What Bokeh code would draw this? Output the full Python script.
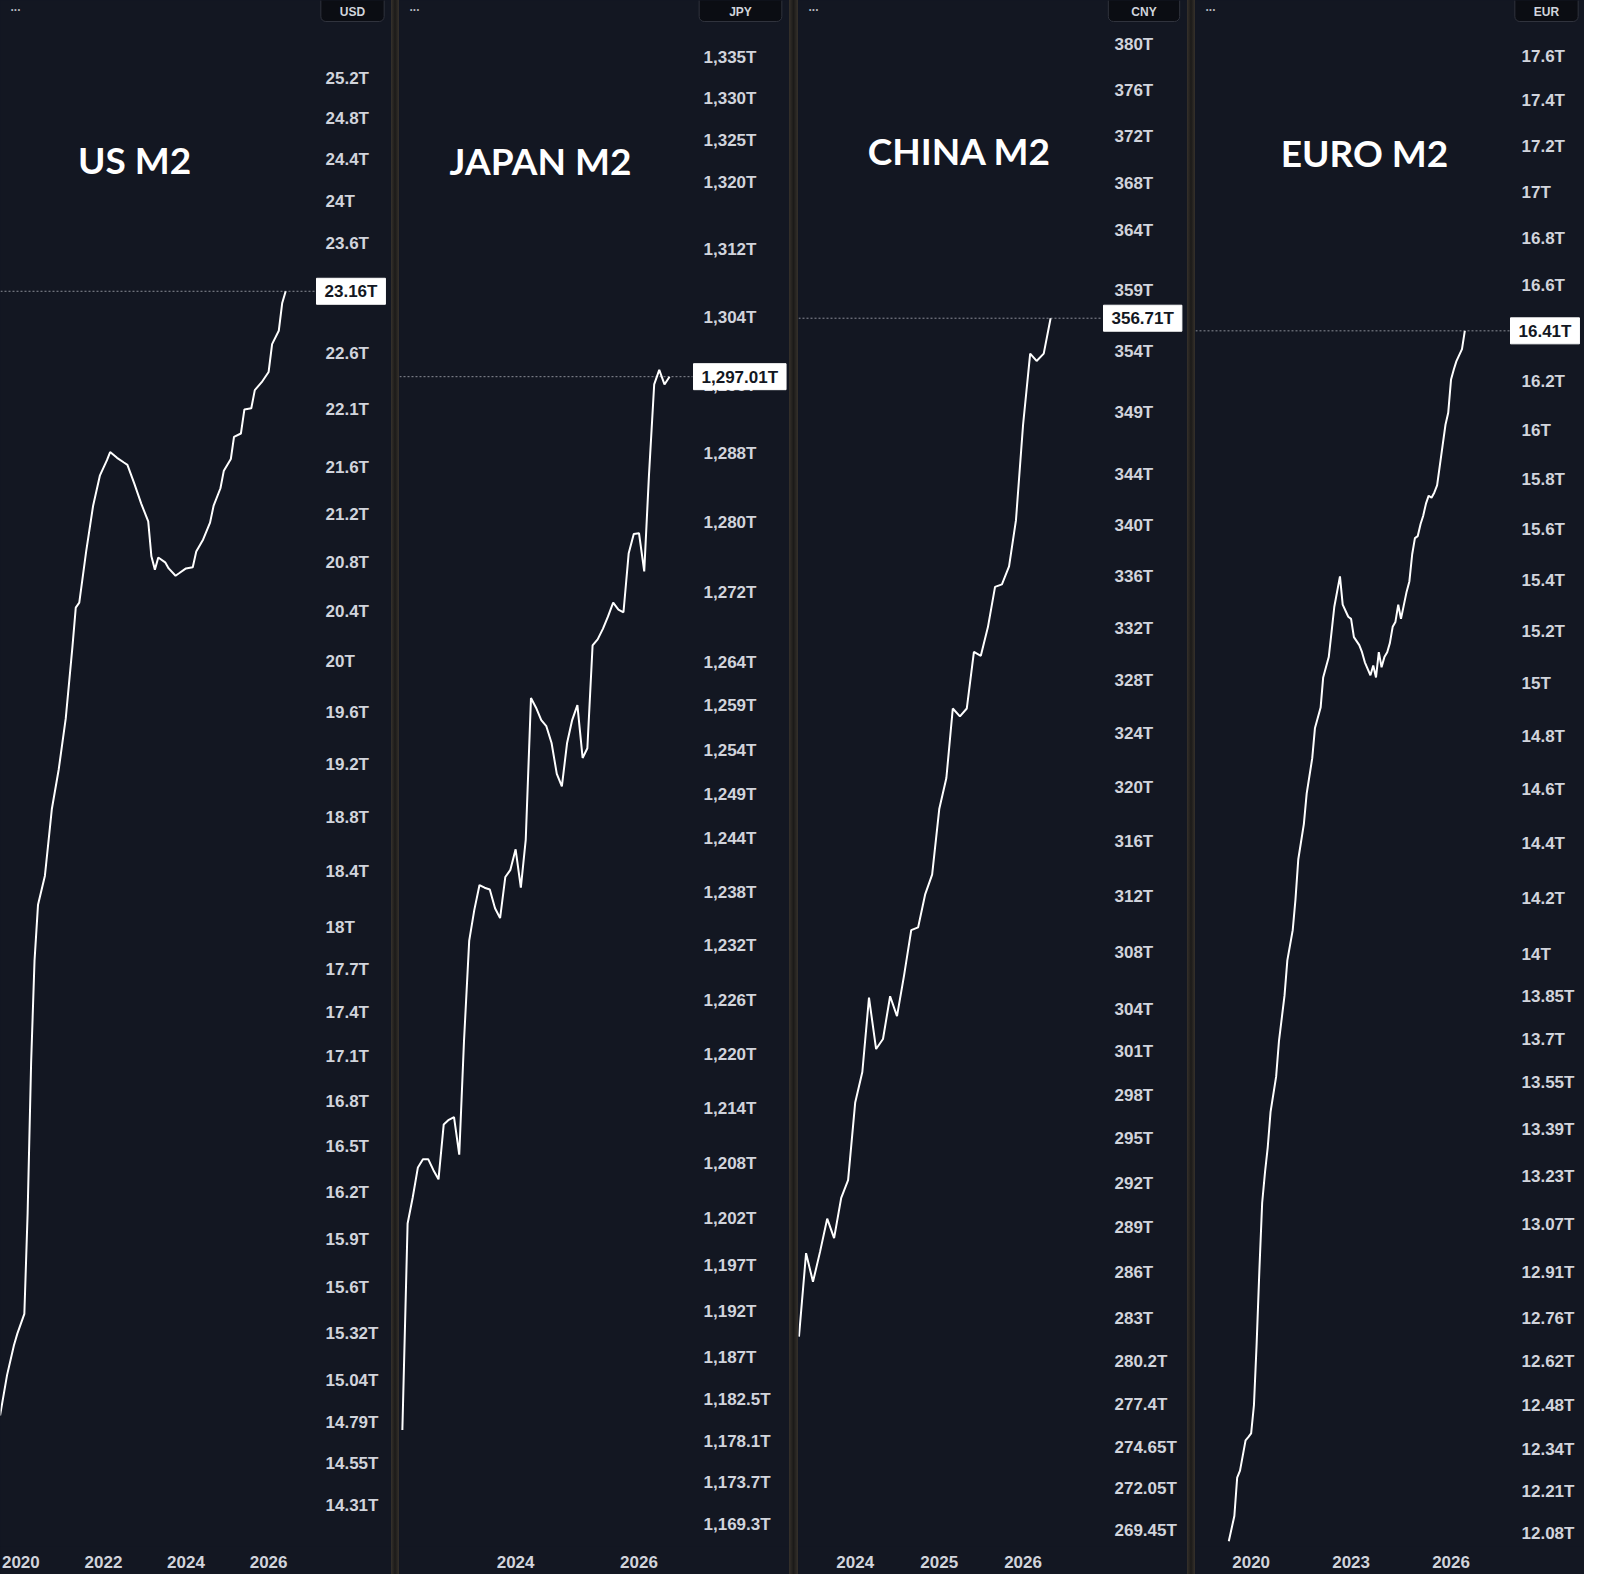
import pandas as pd
from bokeh.plotting import figure
from bokeh.models import Range1d, FixedTicker, CustomJSTickFormatter, Label, Div
from bokeh.layouts import row
from bokeh.embed import file_html
from bokeh.resources import INLINE

# ---------------- data (trillions, local currency) ----------------
us_months = ["2019-07", "2019-09", "2019-11", "2019-12", "2020-02", "2020-03", "2020-04", "2020-05",
             "2020-06", "2020-08", "2020-10", "2020-12", "2021-02", "2021-04", "2021-05", "2021-06",
             "2021-08", "2021-10", "2021-12", "2022-02", "2022-03", "2022-05", "2022-07", "2022-08",
             "2022-10", "2022-12", "2023-02", "2023-03", "2023-04", "2023-05", "2023-07", "2023-08",
             "2023-10", "2023-11", "2024-01", "2024-03", "2024-04", "2024-06", "2024-08", "2024-09",
             "2024-11", "2024-12", "2025-02", "2025-03", "2025-05", "2025-06", "2025-08", "2025-09",
             "2025-11", "2026-01", "2026-02", "2026-04", "2026-05", "2026-06"]
us_m2 = [14.83, 15.07, 15.25, 15.32, 15.44, 16.07, 17.06, 17.76, 18.16, 18.37, 18.86, 19.16,
         19.55, 20.11, 20.43, 20.47, 20.89, 21.27, 21.53, 21.66, 21.73, 21.68, 21.64, 21.62,
         21.46, 21.29, 21.14, 20.85, 20.74, 20.84, 20.80, 20.75, 20.69, 20.71, 20.75, 20.76,
         20.89, 20.99, 21.13, 21.27, 21.42, 21.57, 21.67, 21.86, 21.89, 22.10, 22.11, 22.27,
         22.34, 22.43, 22.68, 22.80, 23.05, 23.16]

jp_start = "2022-03"  # monthly from here
jp_m2 = [1179.3, 1201.5, 1204.3, 1207.6, 1208.5, 1208.5, 1207.3, 1206.3, 1212.3, 1212.8,
         1213.1, 1209.0, 1221.4, 1232.6, 1236.0, 1238.8, 1238.5, 1238.3, 1236.2, 1235.1, 1239.7, 1240.5,
         1242.8, 1238.5, 1243.9, 1259.9, 1258.8, 1257.4, 1256.7, 1254.8, 1251.3, 1249.9, 1254.8, 1257.4,
         1259.1, 1253.1, 1254.2, 1265.9, 1266.6, 1267.8, 1269.2, 1270.8, 1270.0, 1269.7, 1276.5, 1278.7,
         1278.8, 1274.4, 1285.5, 1296.1, 1297.8, 1296.1, 1297.01]

cn_start = "2023-05"  # monthly from here
cn_m2 = [281.8, 287.3, 285.4, 287.4, 289.6, 288.3, 291.0, 292.2,
         297.5, 299.6, 304.8, 301.2, 301.9, 304.9, 303.5, 306.4, 309.6, 309.8, 312.2, 313.6,
         318.4, 320.7, 325.9, 325.3, 325.9, 330.2, 329.9, 332.1, 335.2, 335.4, 336.8, 340.4,
         348.0, 353.8, 353.2, 353.8, 356.71]

eu_months = ["2019-05", "2019-07", "2019-08", "2019-09", "2019-11", "2019-12",
             "2020-01", "2020-02", "2020-03", "2020-04", "2020-05", "2020-06", "2020-07", "2020-08", "2020-10", "2020-11",
             "2021-01", "2021-02", "2021-04", "2021-05", "2021-06", "2021-08", "2021-09", "2021-11", "2021-12",
             "2022-02", "2022-03", "2022-05", "2022-06", "2022-07", "2022-09", "2022-10", "2022-12",
             "2023-01", "2023-02", "2023-04", "2023-05", "2023-06", "2023-08", "2023-09", "2023-10", "2023-11", "2023-12",
             "2024-01", "2024-02", "2024-03", "2024-04", "2024-05", "2024-06", "2024-07", "2024-09", "2024-10", "2024-11", "2024-12",
             "2025-01", "2025-02", "2025-03", "2025-04", "2025-05", "2025-06", "2025-07", "2025-08", "2025-10", "2025-11", "2025-12",
             "2026-01", "2026-02", "2026-03", "2026-05", "2026-06"]
eu_m2 = [12.055, 12.133, 12.252, 12.274, 12.369, 12.379,
         12.391, 12.481, 12.675, 12.922, 13.141, 13.243, 13.328, 13.449, 13.570, 13.693,
         13.853, 13.978, 14.086, 14.196, 14.343, 14.472, 14.585, 14.717, 14.831,
         14.908, 15.023, 15.101, 15.198, 15.296, 15.415, 15.304, 15.257,
         15.249, 15.178, 15.147, 15.120, 15.081, 15.031, 15.069, 15.023, 15.120, 15.062,
         15.101, 15.120, 15.155, 15.218, 15.237, 15.304, 15.249, 15.355, 15.395, 15.502, 15.566,
         15.574, 15.622, 15.654, 15.703, 15.735, 15.727, 15.747, 15.776, 15.939, 16.022, 16.071,
         16.208, 16.250, 16.284, 16.334, 16.41]

# price-scale tick values
us_ticks = [25.2, 24.8, 24.4, 24, 23.6, 22.6, 22.1, 21.6, 21.2, 20.8, 20.4, 20, 19.6, 19.2, 18.8,
            18.4, 18, 17.7, 17.4, 17.1, 16.8, 16.5, 16.2, 15.9, 15.6, 15.32, 15.04, 14.79, 14.55, 14.31]
jp_ticks = [1335, 1330, 1325, 1320, 1312, 1304, 1296, 1288, 1280, 1272, 1264, 1259, 1254, 1249, 1244,
            1238, 1232, 1226, 1220, 1214, 1208, 1202, 1197, 1192, 1187, 1182.5, 1178.1, 1173.7, 1169.3]
cn_ticks = [380, 376, 372, 368, 364, 359, 354, 349, 344, 340, 336, 332, 328, 324, 320, 316, 312, 308,
            304, 301, 298, 295, 292, 289, 286, 283, 280.2, 277.4, 274.65, 272.05, 269.45]
eu_ticks = [17.6, 17.4, 17.2, 17, 16.8, 16.6, 16.2, 16, 15.8, 15.6, 15.4, 15.2, 15, 14.8, 14.6, 14.4,
            14.2, 14, 13.85, 13.7, 13.55, 13.39, 13.23, 13.07, 12.91, 12.76, 12.62, 12.48, 12.34, 12.21, 12.08]

# time-scale year labels
us_years = [2020, 2022, 2024, 2026]
jp_years = [2024, 2026]
cn_years = [2024, 2025, 2026]
eu_years = [2020, 2023, 2026]

titles = ["US M2", "JAPAN M2", "CHINA M2", "EURO M2"]
currencies = ["USD", "JPY", "CNY", "EUR"]

# ---------------- styling ----------------
BG = "#131722"
TXT = "#d1d4dc"
H = 1574
BOTTOM = 28
FRAME_H = H - BOTTOM
TICK_FONT = "Liberation Sans"
TITLE_FONT = "Lato"


def ms(d):
    return pd.Timestamp(d).value // 10**6


def panel(title, cur, x, y, yticks, years, xr, yr, width, pane_w, title_pos, standoff, tab_w):
    x0, x1 = ms(xr[0]), ms(xr[1])           # time span covered by the chart pane
    x_full = x0 + (x1 - x0) * width / pane_w  # pane + price scale area
    p = figure(width=width, height=H, x_axis_type="datetime", y_axis_type="log",
               y_axis_location="right", x_range=Range1d(x0, x_full),
               y_range=Range1d(yr[0], yr[1]), toolbar_location=None, output_backend="svg",
               min_border_left=0, min_border_top=0, min_border_right=0,
               min_border_bottom=BOTTOM, background_fill_color=BG, border_fill_color=BG,
               outline_line_color=None, styles={"background-color": BG})
    p.grid.visible = False

    last = y[-1]
    # dotted last-value line across the chart pane
    p.line([x0, x1], [last, last], line_color="#8a8d96", line_dash="2 2", line_width=1)
    p.line(x, y, line_color="#ffffff", line_width=2)

    yax = p.yaxis[0]
    yax.fixed_location = x1
    yax.ticker = FixedTicker(ticks=yticks)
    yax.formatter = CustomJSTickFormatter(
        code="return tick.toLocaleString('en-US', {maximumFractionDigits: 2}) + 'T';")
    xax = p.xaxis[0]
    xax.ticker = FixedTicker(ticks=[ms(f"{yy}-01-01") for yy in years])
    xax.formatter = CustomJSTickFormatter(code="return String(new Date(tick).getUTCFullYear());")
    for ax, so in ((yax, standoff), (xax, 9)):
        ax.axis_line_color = None
        ax.major_tick_line_color = None
        ax.minor_tick_line_color = None
        ax.major_tick_out = 0
        ax.major_tick_in = 0
        ax.major_label_standoff = so
        ax.major_label_text_color = TXT
        ax.major_label_text_font = TICK_FONT
        ax.major_label_text_font_size = "17px"
        ax.major_label_text_font_style = "bold"

    # last-value price tag
    p.add_layout(Label(x=pane_w + 1, y=last, x_units="screen", y_units="data",
                       text=f"{last:,.2f}T", text_align="left", text_baseline="middle",
                       text_font=TICK_FONT, text_font_size="17px", text_font_style="bold",
                       text_color="#131722", background_fill_color="#ffffff",
                       border_line_color="#ffffff",
                       padding=dict(left=8, right=8, top=4, bottom=3)))
    # big title
    p.add_layout(Label(x=title_pos[0], y=title_pos[1], x_units="screen", y_units="screen",
                       text=title, text_align="center", text_baseline="middle",
                       text_font=TITLE_FONT, text_font_size="37px", text_font_style="bold",
                       text_color="#ffffff"))
    # pane menu dots
    p.add_layout(Label(x=10, y=FRAME_H - 1, x_units="screen", y_units="screen", text="...",
                       text_align="left", text_baseline="top", text_font=TICK_FONT,
                       text_font_size="12px", text_font_style="bold", text_color="#b2b5be"))
    # currency tab
    pad = max((tab_w - 28) // 2, 4)
    p.add_layout(Label(x=pane_w + 4 + tab_w / 2, y=FRAME_H - 8, x_units="screen", y_units="screen",
                       text=cur, text_align="center", text_baseline="middle",
                       text_font=TICK_FONT, text_font_size="12px", text_font_style="bold",
                       text_color=TXT, background_fill_color="#0b0d13",
                       border_line_color="#30333d", border_radius=5,
                       padding=dict(left=pad, right=pad, top=9, bottom=3)))
    return p


us_x = pd.to_datetime([m + "-01" for m in us_months])
jp_x = pd.date_range(jp_start + "-01", periods=len(jp_m2), freq="MS")
cn_x = pd.date_range(cn_start + "-01", periods=len(cn_m2), freq="MS")
eu_x = pd.to_datetime([m + "-01" for m in eu_months])

p1 = panel(titles[0], currencies[0], us_x, us_m2, us_ticks, us_years,
           ("2019-07-05", "2027-02-20"), (14.08, 25.99), 391, 315, (134, FRAME_H - 159), 10, 66)
p2 = panel(titles[1], currencies[1], jp_x, jp_m2, jp_ticks, jp_years,
           ("2022-02-12", "2026-11-14"), (1166.95, 1341.84), 390, 293, (141, FRAME_H - 160), 11, 88)
p3 = panel(titles[2], currencies[2], cn_x, cn_m2, cn_ticks, cn_years,
           ("2023-04-29", "2026-12-13"), (268.44, 383.93), 389, 304, (161, FRAME_H - 150), 12, 75)
p4 = panel(titles[3], currencies[3], eu_x, eu_m2, eu_ticks, eu_years,
           ("2018-05-01", "2027-10-04"), (12.039, 17.851), 389, 314, (169, FRAME_H - 152), 12, 66)


def divider(w):
    return Div(width=w, height=H, margin=0, styles={
        "background": "linear-gradient(to right, #36312b, #1b1a19 50%, #36312b)"})


layout = row(p1, divider(8), p2, divider(9), p3, divider(8), p4, spacing=0,
             styles={"background-color": BG})

open("out.html", "w").write(file_html(layout, INLINE))
